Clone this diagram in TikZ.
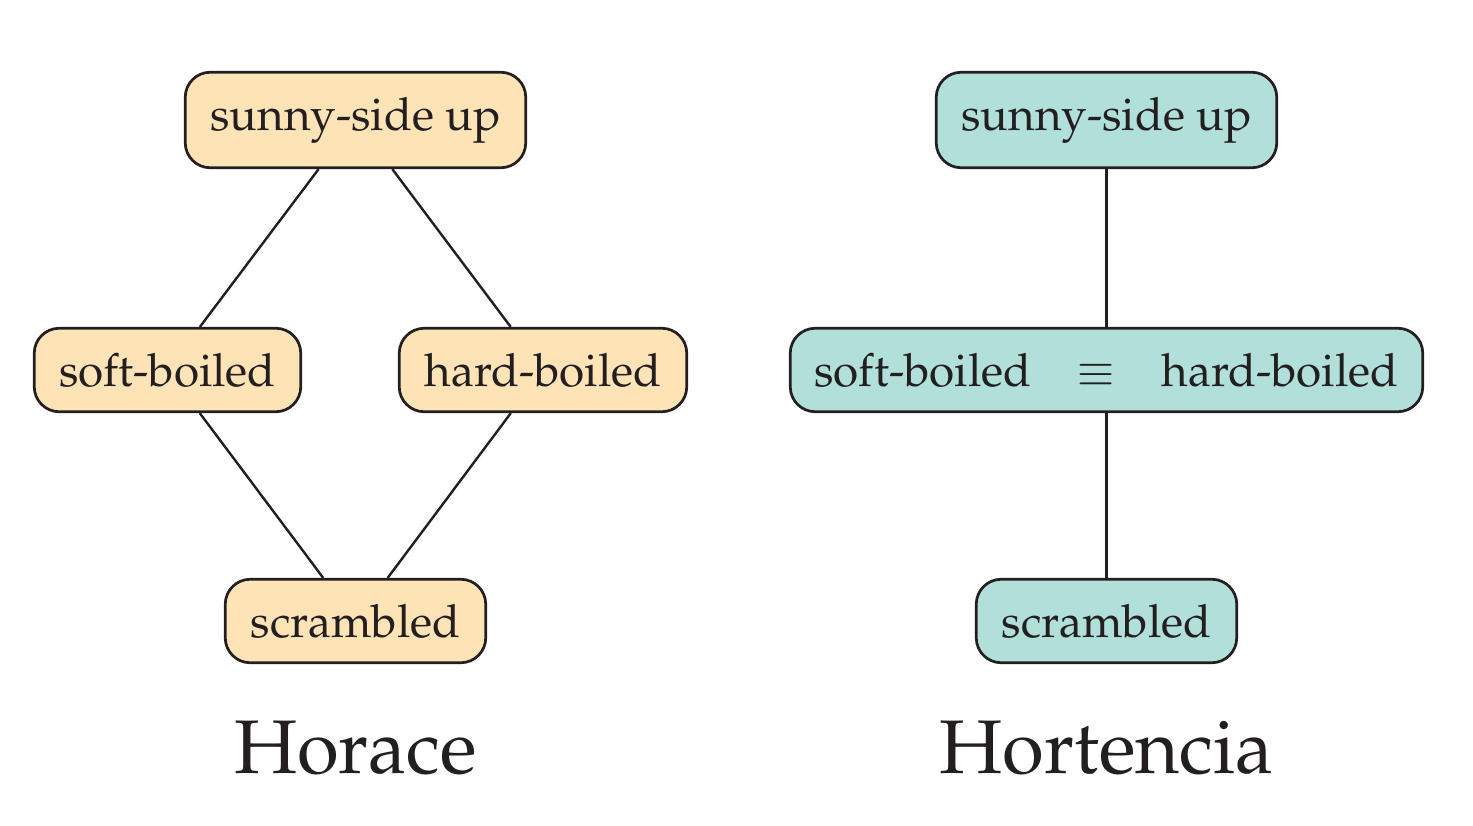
\documentclass[tikz,border=0pt]{standalone}
\usepackage[T1]{fontenc}
\usepackage{mathpazo}
\definecolor{eggorange}{HTML}{FEE3B6}
\definecolor{eggteal}{HTML}{B1DFDA}
\definecolor{ink}{HTML}{231F20}
\tikzset{
  eggbox/.style={draw=ink, line width=1.35pt, rounded corners=12.5pt, inner sep=0pt,
    text=ink, font=\fontsize{22.9}{27}\selectfont, minimum height=41.75pt},
  horbox/.style={eggbox, fill=eggorange},
  hortbox/.style={eggbox, fill=eggteal},
  link/.style={draw=ink, line width=1.2pt},
  personlabel/.style={text=ink, font=\fontsize{38}{44}\selectfont, inner sep=0pt}
}
\begin{document}
\begin{tikzpicture}[x=0.5pt,y=-0.5pt]
\useasboundingbox (0,0) rectangle (1473,825);
% Horace
\node[horbox, minimum width=170.25pt, minimum height=47.75pt] (ls) at (355.5,120) {sunny-side up};
\node[horbox, minimum width=133.25pt] (lsoft) at (167.5,370) {soft-boiled};
\node[horbox, minimum width=143.75pt] (lhard) at (543,370) {hard-boiled};
\node[horbox, minimum width=130.25pt] (lscr) at (355.5,621) {scrambled};
\draw[link] (ls) -- (lsoft);
\draw[link] (ls) -- (lhard);
\draw[link] (lsoft) -- (lscr);
\draw[link] (lhard) -- (lscr);
\node[personlabel] (horace) at (355.5,748) {Horace};
% Hortencia
\node[hortbox, minimum width=170.25pt, minimum height=47.75pt] (rs) at (1106.5,120) {sunny-side up};
\node[hortbox, minimum width=316.25pt] (rmid) at (1106.5,370) {soft-boiled\hspace{23pt}$\equiv$\hspace{23pt}hard-boiled};
\node[hortbox, minimum width=130.25pt] (rscr) at (1106.5,621) {scrambled};
\draw[link] (rs) -- (rmid);
\draw[link] (rmid) -- (rscr);
\node[personlabel] (hortencia) at (1106.5,748) {Hortencia};
\end{tikzpicture}
\end{document}
